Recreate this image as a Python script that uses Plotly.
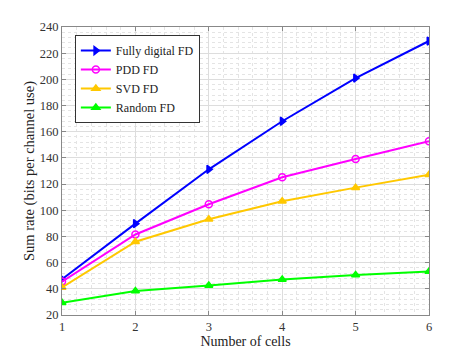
import plotly.graph_objects as go

cells = [1, 2, 3, 4, 5, 6]
fully_digital = [47.4, 89.8, 131.3, 168.0, 201.0, 229.3]
pdd = [45.5, 81.5, 104.6, 125.2, 139.1, 152.8]
svd = [41.0, 76.0, 93.2, 106.9, 117.3, 127.2]
random_fd = [29.4, 38.4, 42.6, 47.2, 50.6, 53.3]

series = [
    ("Fully digital FD", fully_digital, "#0000FF", "triangle-right"),
    ("PDD FD", pdd, "#FF00FF", "circle-open"),
    ("SVD FD", svd, "#FFC800", "triangle-up"),
    ("Random FD", random_fd, "#00FF00", "triangle-up"),
]

fig = go.Figure()
for name, vals, col, sym in series:
    fig.add_trace(go.Scatter(
        x=cells, y=vals, name=name, mode="lines+markers",
        line=dict(color=col, width=2),
        marker=dict(symbol=sym, size=7, color=col, line=dict(color=col, width=1.5)),
    ))

font_family = "Liberation Serif, DejaVu Serif, serif"
axis_common = dict(
    showline=True, linecolor="#888888", linewidth=1, mirror="ticks",
    ticks="inside", ticklen=4, tickcolor="#888888",
    showgrid=True, gridcolor="#DDDDDD", gridwidth=1,
    zeroline=False, automargin=False,
    tickfont=dict(family=font_family, size=12.5, color="#333333"),
)

fig.update_xaxes(
    range=[1, 6], tickvals=[1, 2, 3, 4, 5, 6],
    title=dict(text="Number of cells", font=dict(family=font_family, size=14, color="#222222"), standoff=3),
    minor=dict(dtick=0.2, showgrid=True, gridcolor="#E4E4E4", griddash="dot", ticks=""),
    **axis_common,
)
fig.update_yaxes(
    range=[20, 240], tickvals=list(range(20, 241, 20)),
    title=dict(text="Sum rate (bits per channel use)", font=dict(family=font_family, size=14.5, color="#222222"), standoff=1),
    minor=dict(dtick=4, showgrid=True, gridcolor="#E4E4E4", griddash="dot", ticks=""),
    **axis_common,
)

fig.update_layout(
    width=466, height=347,
    margin=dict(l=54, r=45, t=19, b=40),
    plot_bgcolor="white", paper_bgcolor="white",
    font=dict(family=font_family),
    legend=dict(
        x=0.035, y=0.972, xanchor="left", yanchor="top",
        bgcolor="white", bordercolor="#333333", borderwidth=1,
        font=dict(family=font_family, size=12, color="#222222"),
        tracegroupgap=0, itemwidth=30,
    ),
)

fig.write_html("out.html")
